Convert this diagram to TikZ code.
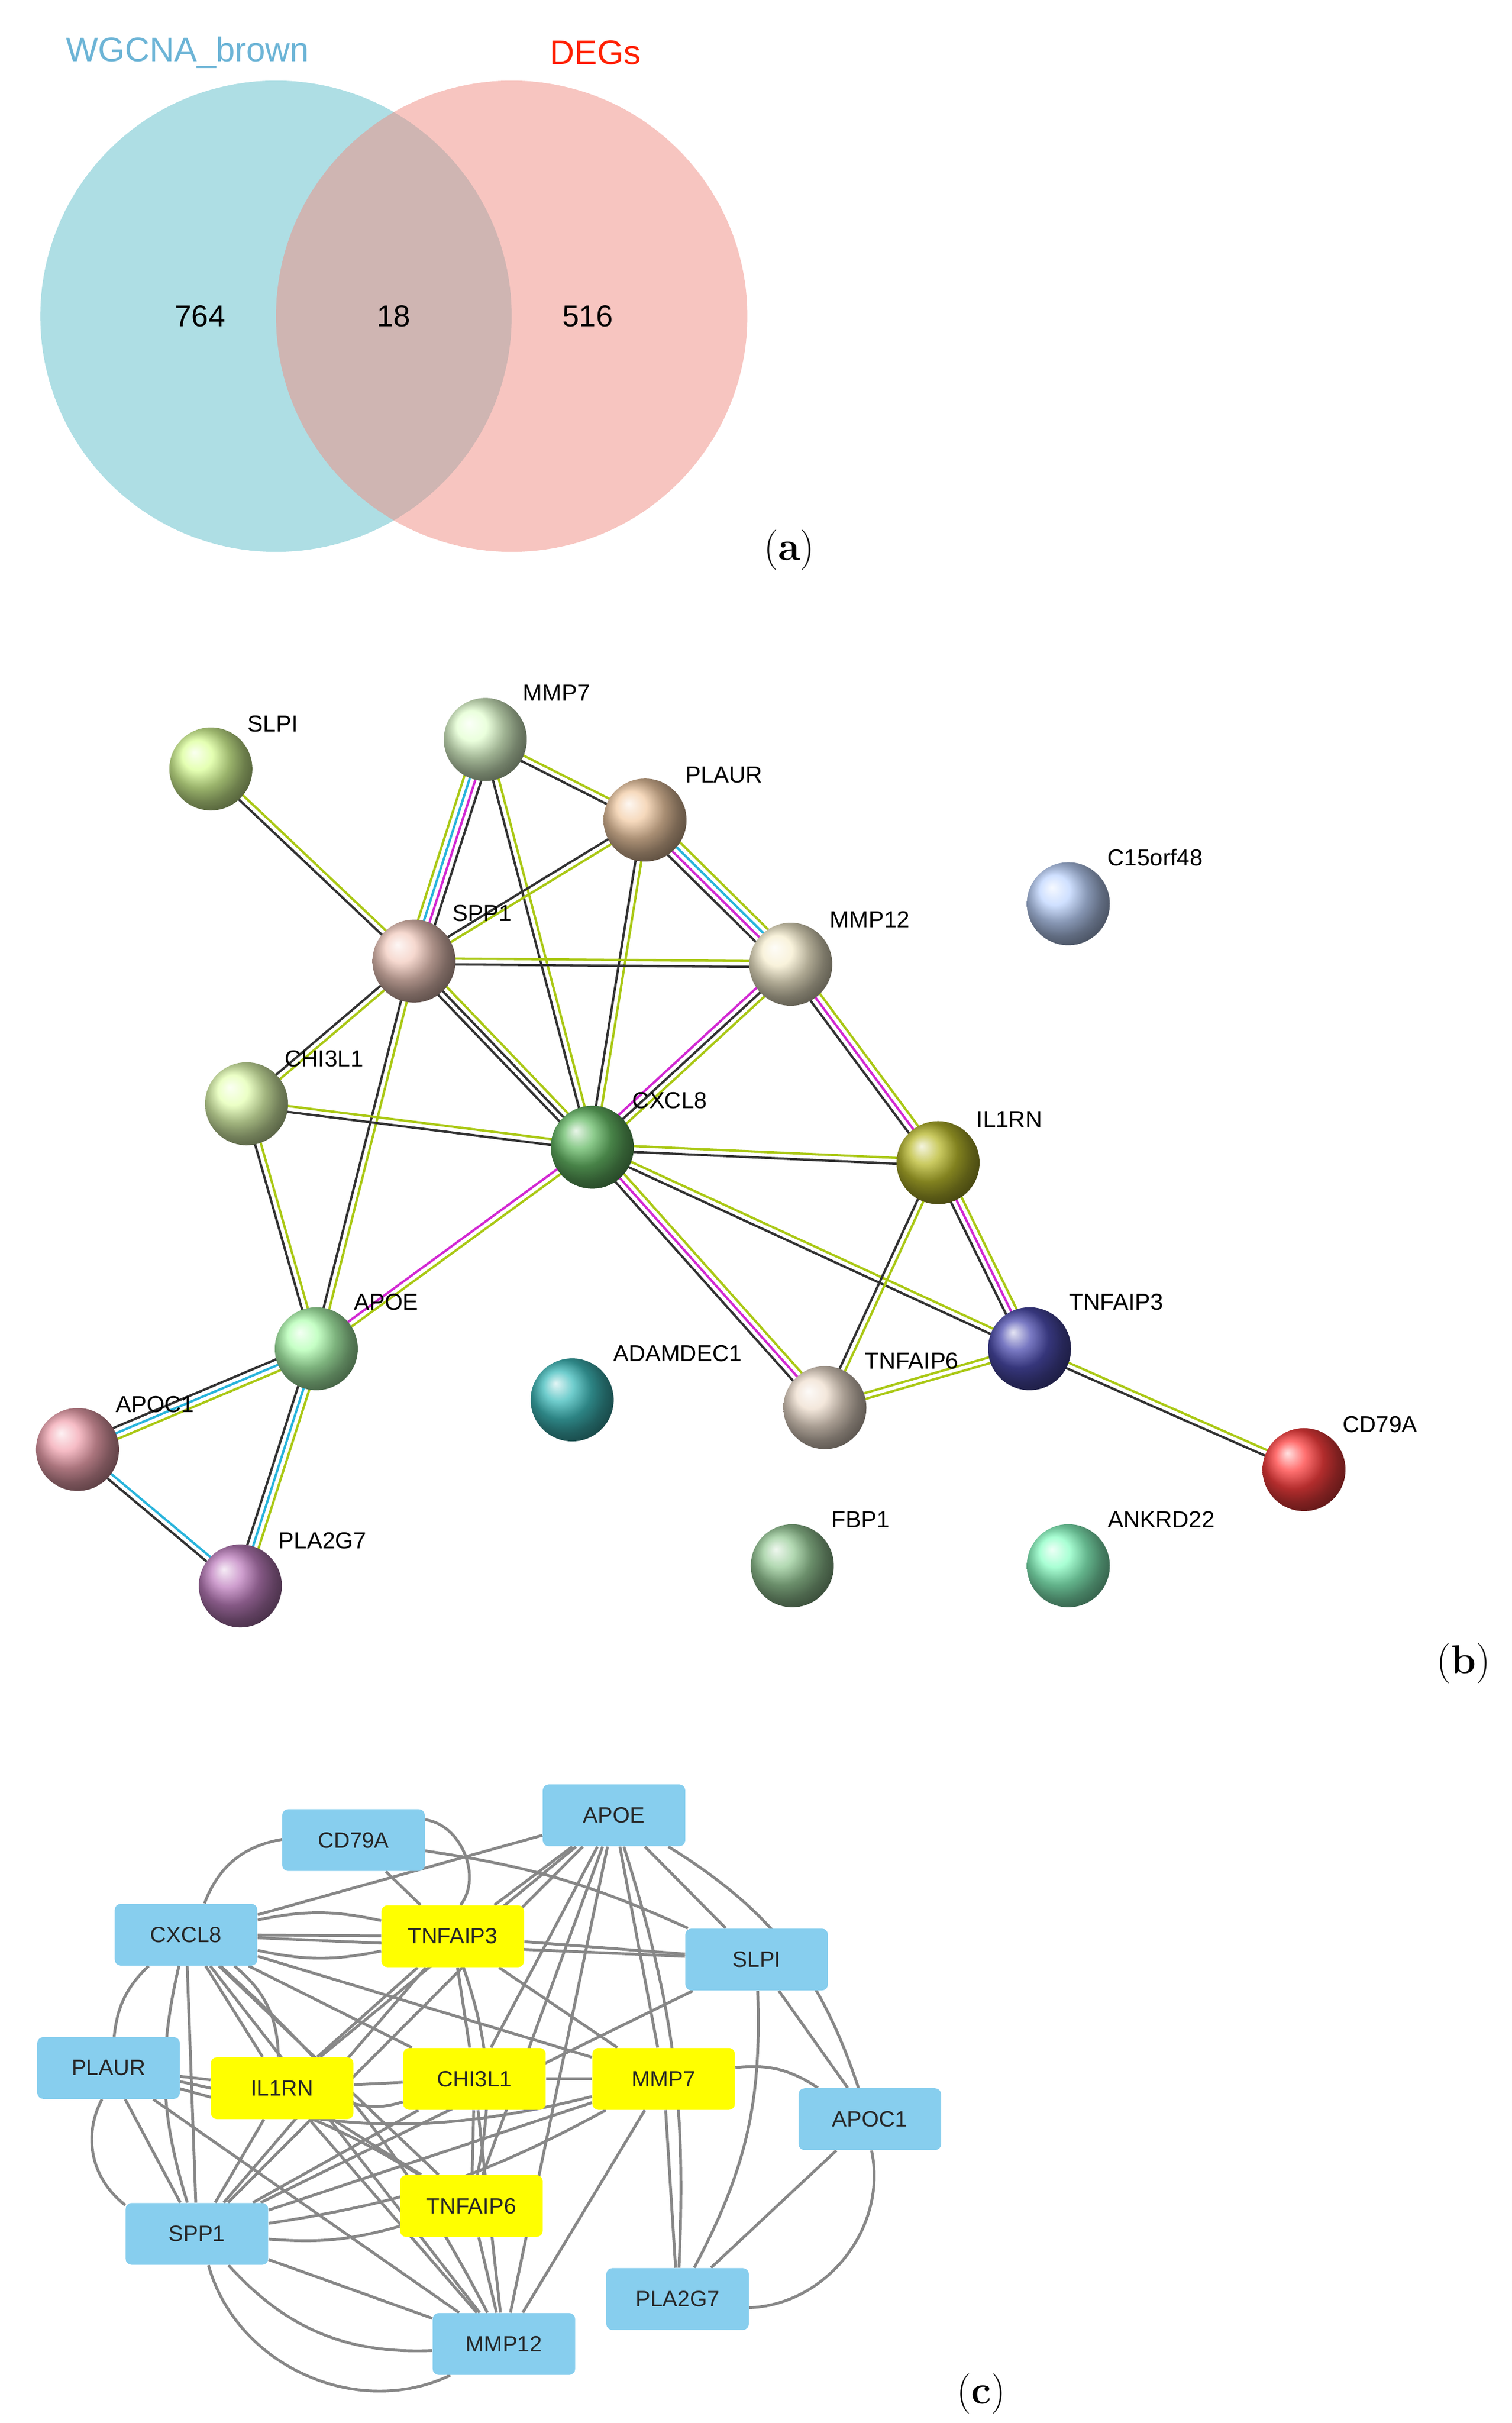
\documentclass[tikz,border=0pt]{standalone}
\usepackage{fontspec}
\setmainfont{Liberation Sans}
\newfontfamily\serif{Latin Modern Roman}
\usetikzlibrary{calc,backgrounds,shapes.geometric}
\definecolor{vcyan}{RGB}{120,200,210}
\definecolor{vred}{RGB}{240,140,130}
\definecolor{ecol}{RGB}{170,200,20}
\definecolor{emag}{RGB}{210,40,210}
\definecolor{ecyan}{RGB}{40,180,220}
\definecolor{eblk}{RGB}{50,50,50}
\definecolor{cblue}{RGB}{135,206,238}
\definecolor{cyel}{RGB}{255,255,0}
\definecolor{cgray}{RGB}{135,135,135}
\newcommand\sedge[4]{%
  \foreach \c [count=\i] in {#4} {%
    \pgfmathsetmacro\off{(\i-(#3+1)/2)*2.9}%
    \draw[\c, line width=1.15pt] ($(#1.center)!\off pt!90:(#2.center)$) -- ($(#2.center)!\off pt!-90:(#1.center)$);
  }}
\tikzset{
  ball/.style={circle, shading=ball, ball color=#1, minimum size=1.45cm, inner sep=0pt},
  blab/.style={font=\fontsize{11.5}{12}\selectfont, anchor=center},
  cbox/.style={rectangle, rounded corners=3pt, fill=#1, minimum width=2.49cm, minimum height=1.08cm, font=\fontsize{11}{12}\selectfont, text=black!85},
  cedge/.style={draw=cgray, line width=1.4pt},
  plab/.style={font=\serif\fontsize{20}{22}\selectfont}
}
\begin{document}
\begin{tikzpicture}[x=0.02709cm,y=-0.02709cm]
\useasboundingbox (0,0) rectangle (975,1563);
% ---------- (a)
\fill[vcyan, opacity=0.6] (178,204) circle[radius=152];
\fill[vred, opacity=0.5] (330,204) circle[radius=152];
\node[text=vcyan!90!blue, font=\fontsize{17}{18}\selectfont] (la) at (121,34) {WGCNA\_brown};
\node[text=red!75!orange, font=\fontsize{17}{18}\selectfont] (lb) at (384,34) {DEGs};
\node[font=\fontsize{15}{16}\selectfont] (n1) at (129,204) {764};
\node[font=\fontsize{15}{16}\selectfont] (n2) at (254,204) {18};
\node[font=\fontsize{15}{16}\selectfont] (n3) at (379,204) {516};
\node[plab] (pa) at (509,355) {(\textbf{a})};
% ---------- (b)
\node[ball=green!35!yellow!40!white] (bSLPI) at (136,496) {};
\node[ball=yellow!40!green!18!white] (bMMP7) at (313,477) {};
\node[ball=orange!50!brown!40!white] (bPLAUR) at (416,529) {};
\node[ball=cyan!35!blue!25!white] (bC15) at (689,583) {};
\node[ball=red!35!brown!30!white] (bSPP1) at (267,620) {};
\node[ball=yellow!40!brown!22!white] (bMMP12) at (510,622) {};
\node[ball=green!35!yellow!30!white] (bCHI3L1) at (159,712) {};
\node[ball=green!55!black!60!white] (bCXCL8) at (382,740) {};
\node[ball=olive!55!white] (bIL1RN) at (605,750) {};
\node[ball=green!30!white] (bAPOE) at (204,870) {};
\node[ball=blue!55!black!70!white] (bTNFAIP3) at (664,870) {};
\node[ball=teal!70!cyan!75!white] (bADAMDEC1) at (369,903) {};
\node[ball=brown!25!white] (bTNFAIP6) at (532,908) {};
\node[ball=red!45!purple!35!white] (bAPOC1) at (50,935) {};
\node[ball=red!75!white] (bCD79A) at (841,948) {};
\node[ball=green!50!black!40!white] (bFBP1) at (511,1010) {};
\node[ball=green!50!cyan!45!white] (bANKRD22) at (689,1010) {};
\node[ball=violet!50!white] (bPLA2G7) at (155,1023) {};
\begin{scope}[on background layer]
\sedge{bSLPI}{bSPP1}{2}{eblk,ecol}
\sedge{bMMP7}{bSPP1}{4}{ecol,ecyan,emag,eblk}
\sedge{bMMP7}{bPLAUR}{2}{eblk,ecol}
\sedge{bMMP7}{bCXCL8}{2}{eblk,ecol}
\sedge{bPLAUR}{bSPP1}{2}{eblk,ecol}
\sedge{bPLAUR}{bCXCL8}{2}{eblk,ecol}
\sedge{bPLAUR}{bMMP12}{4}{eblk,emag,ecyan,ecol}
\sedge{bSPP1}{bMMP12}{2}{eblk,ecol}
\sedge{bSPP1}{bCXCL8}{3}{eblk,eblk,ecol}
\sedge{bSPP1}{bCHI3L1}{2}{eblk,ecol}
\sedge{bSPP1}{bAPOE}{2}{eblk,ecol}
\sedge{bMMP12}{bCXCL8}{3}{emag,eblk,ecol}
\sedge{bMMP12}{bIL1RN}{3}{eblk,emag,ecol}
\sedge{bCHI3L1}{bCXCL8}{2}{eblk,ecol}
\sedge{bCHI3L1}{bAPOE}{2}{eblk,ecol}
\sedge{bCXCL8}{bIL1RN}{2}{eblk,ecol}
\sedge{bCXCL8}{bAPOE}{2}{emag,ecol}
\sedge{bCXCL8}{bTNFAIP3}{2}{eblk,ecol}
\sedge{bCXCL8}{bTNFAIP6}{3}{eblk,emag,ecol}
\sedge{bIL1RN}{bTNFAIP3}{3}{eblk,emag,ecol}
\sedge{bIL1RN}{bTNFAIP6}{2}{eblk,ecol}
\sedge{bTNFAIP6}{bTNFAIP3}{2}{ecol,ecol}
\sedge{bTNFAIP3}{bCD79A}{2}{eblk,ecol}
\sedge{bAPOE}{bAPOC1}{3}{eblk,ecyan,ecol}
\sedge{bAPOE}{bPLA2G7}{3}{eblk,ecyan,ecol}
\sedge{bAPOC1}{bPLA2G7}{2}{eblk,ecyan}
\end{scope}
\node[blab] (tSLPI) at (176,467) {SLPI};
\node[blab] (tMMP7) at (359,447) {MMP7};
\node[blab] (tPLAUR) at (467,500) {PLAUR};
\node[blab] (tC15) at (745,553) {C15orf48};
\node[blab] (tSPP1) at (311,589) {SPP1};
\node[blab] (tMMP12) at (561,593) {MMP12};
\node[blab] (tCHI3L1) at (209,683) {CHI3L1};
\node[blab] (tCXCL8) at (432,710) {CXCL8};
\node[blab] (tIL1RN) at (651,722) {IL1RN};
\node[blab] (tAPOE) at (249,840) {APOE};
\node[blab] (tTNFAIP3) at (720,840) {TNFAIP3};
\node[blab] (tADAMDEC1) at (437,873) {ADAMDEC1};
\node[blab] (tTNFAIP6) at (588,878) {TNFAIP6};
\node[blab] (tAPOC1) at (100,906) {APOC1};
\node[blab] (tCD79A) at (890,919) {CD79A};
\node[blab] (tFBP1) at (555,980) {FBP1};
\node[blab] (tANKRD22) at (749,980) {ANKRD22};
\node[blab] (tPLA2G7) at (208,994) {PLA2G7};
\node[plab] (pb) at (944,1073) {(\textbf{b})};
% ---------- (c)
\node[cbox=cblue] (cCD79A) at (228,1187) {CD79A};
\node[cbox=cblue] (cAPOE) at (396,1171) {APOE};
\node[cbox=cblue] (cCXCL8) at (120,1248) {CXCL8};
\node[cbox=cyel] (cTNFAIP3) at (292,1249) {TNFAIP3};
\node[cbox=cblue] (cSLPI) at (488,1264) {SLPI};
\node[cbox=cblue] (cPLAUR) at (70,1334) {PLAUR};
\node[cbox=cyel] (cIL1RN) at (182,1347) {IL1RN};
\node[cbox=cyel] (cCHI3L1) at (306,1341) {CHI3L1};
\node[cbox=cyel] (cMMP7) at (428,1341) {MMP7};
\node[cbox=cblue] (cAPOC1) at (561,1367) {APOC1};
\node[cbox=cyel] (cTNFAIP6) at (304,1423) {TNFAIP6};
\node[cbox=cblue] (cSPP1) at (127,1441) {SPP1};
\node[cbox=cblue] (cPLA2G7) at (437,1483) {PLA2G7};
\node[cbox=cblue] (cMMP12) at (325,1512) {MMP12};
\begin{scope}[on background layer, every path/.style={cedge}]
\draw (cCXCL8) -- (cTNFAIP3);
\draw (cCXCL8) to[bend left=12] (cTNFAIP3);
\draw (cCXCL8) to[bend right=12] (cTNFAIP3);
\draw (cCXCL8) -- (cIL1RN);
\draw (cCXCL8) -- (cCHI3L1);
\draw (cCXCL8) -- (cMMP7);
\draw (cCXCL8) -- (cSPP1);
\draw (cCXCL8) to[bend right=15] (cSPP1);
\draw (cCXCL8) -- (cMMP12);
\draw (cCXCL8) to[bend left=10] (cMMP12);
\draw (cCXCL8) -- (cTNFAIP6);
\draw (cCXCL8) -- (cAPOE);
\draw (cCXCL8) -- (cSLPI);
\draw (cCXCL8) to[bend left=30] (cCD79A);
\draw (cCXCL8) to[bend right=20] (cPLAUR);
\draw (cCXCL8) to[bend left=25] (cIL1RN);
\draw (cCD79A) to[bend left=60] (cTNFAIP3);
\draw (cCD79A) -- (cTNFAIP3);
\draw (cCD79A) to[bend left=8] (cSLPI);
\draw (cAPOE) -- (cTNFAIP3);
\draw (cAPOE) -- (cIL1RN);
\draw (cAPOE) -- (cCHI3L1);
\draw (cAPOE) -- (cMMP7);
\draw (cAPOE) -- (cSPP1);
\draw (cAPOE) -- (cMMP12);
\draw (cAPOE) -- (cTNFAIP6);
\draw (cAPOE) -- (cSLPI);
\draw (cAPOE) to[bend left=10] (cPLA2G7);
\draw (cAPOE) to[bend left=20] (cAPOC1);
\draw (cTNFAIP3) -- (cSLPI);
\draw (cTNFAIP3) -- (cIL1RN);
\draw (cTNFAIP3) -- (cCHI3L1);
\draw (cTNFAIP3) -- (cMMP7);
\draw (cTNFAIP3) -- (cSPP1);
\draw (cTNFAIP3) to[bend left=15] (cTNFAIP6);
\draw (cSLPI) -- (cAPOC1);
\draw (cSLPI) to[bend left=15] (cPLA2G7);
\draw (cSLPI) -- (cSPP1);
\draw (cPLAUR) -- (cIL1RN);
\draw (cPLAUR) -- (cMMP12);
\draw (cPLAUR) to[bend right=40] (cSPP1);
\draw (cPLAUR) -- (cSPP1);
\draw (cPLAUR) to[bend right=15] (cMMP7);
\draw (cPLAUR) to[bend left=10] (cTNFAIP6);
\draw (cIL1RN) -- (cCHI3L1);
\draw (cIL1RN) to[bend right=15] (cCHI3L1);
\draw (cIL1RN) -- (cMMP12);
\draw (cIL1RN) -- (cSPP1);
\draw (cIL1RN) -- (cTNFAIP6);
\draw (cCHI3L1) -- (cMMP7);
\draw (cCHI3L1) -- (cSPP1);
\draw (cCHI3L1) -- (cMMP12);
\draw (cCHI3L1) -- (cTNFAIP6);
\draw (cMMP7) -- (cSPP1);
\draw (cMMP7) to[bend left=10] (cSPP1);
\draw (cMMP7) -- (cMMP12);
\draw (cMMP7) -- (cPLA2G7);
\draw (cMMP7) to[bend left=20] (cAPOC1);
\draw (cSPP1) -- (cMMP12);
\draw (cSPP1) to[bend right=25] (cMMP12);
\draw (cSPP1) to[bend right=10] (cTNFAIP6);
\draw (cSPP1) to[bend right=50] (cMMP12);
\draw (cAPOC1) -- (cPLA2G7);
\draw (cAPOC1) to[bend left=50] (cPLA2G7);
\draw (cTNFAIP6) -- (cMMP12);
\end{scope}
\node[plab] (pc) at (633,1544) {(\textbf{c})};
\end{tikzpicture}
\end{document}
